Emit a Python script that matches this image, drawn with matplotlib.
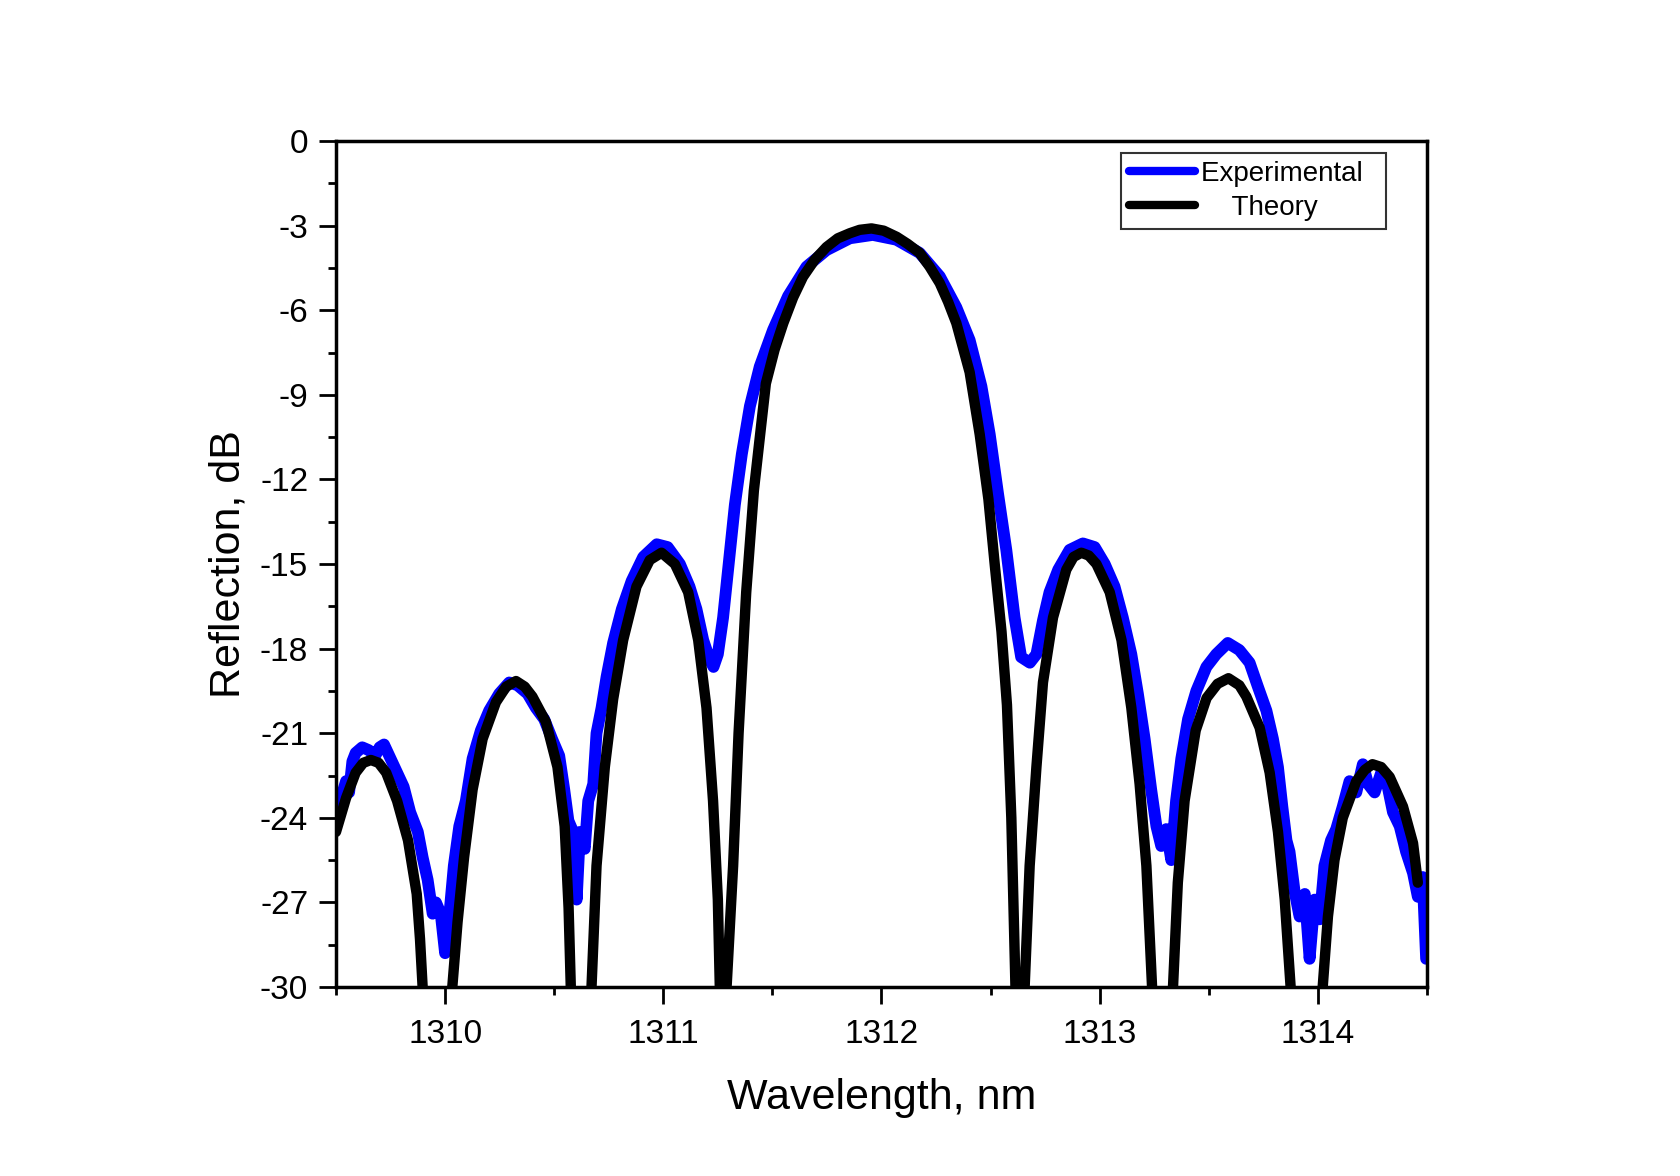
import numpy as np
import matplotlib
matplotlib.use("Agg")
from matplotlib import pyplot as plt
from matplotlib.ticker import MultipleLocator

plt.rcParams['font.family'] = ['Liberation Sans', 'DejaVu Sans']
plt.rcParams['axes.unicode_minus'] = False

nan = np.nan

# theory curve, one list per side lobe (NaN breaks where it drops below -30 dB)
theory_x = [
    1309.500, 1309.546, 1309.590, 1309.625, 1309.660, 1309.695, 1309.730, 1309.780,
    1309.830, 1309.870, 1309.885, 1309.897, nan,
    1310.033, 1310.057, 1310.087, 1310.126, 1310.172, 1310.233, 1310.280, 1310.325,
    1310.365, 1310.400, 1310.462, 1310.515, 1310.548, 1310.566, 1310.576, nan,
    1310.671, 1310.694, 1310.732, 1310.770, 1310.816, 1310.877, 1310.938, 1310.992,
    1311.053, 1311.114, 1311.160, 1311.198, 1311.228, 1311.250, 1311.259, nan,
    1311.290, 1311.320, 1311.345, 1311.380, 1311.415, 1311.470, 1311.510, 1311.550,
    1311.595, 1311.640, 1311.695, 1311.748, 1311.800, 1311.855, 1311.900, 1311.954,
    1312.010, 1312.070, 1312.120, 1312.175, 1312.220, 1312.267, 1312.305, 1312.343,
    1312.404, 1312.450, 1312.490, 1312.520, 1312.550, 1312.575, 1312.595, 1312.614, nan,
    1312.656, 1312.679, 1312.710, 1312.740, 1312.786, 1312.847, 1312.880, 1312.916,
    1312.950, 1312.985, 1313.046, 1313.100, 1313.145, 1313.183, 1313.214, 1313.240, nan,
    1313.336, 1313.358, 1313.389, 1313.440, 1313.490, 1313.540, 1313.590, 1313.640,
    1313.672, 1313.733, 1313.779, 1313.817, 1313.848, 1313.875, nan,
    1314.022, 1314.046, 1314.076, 1314.114, 1314.176, 1314.215, 1314.250, 1314.290,
    1314.329, 1314.390, 1314.436, 1314.458,
]
theory_y = [
    -24.5, -23.3, -22.4, -22.05, -21.95, -22.05, -22.4, -23.4,
    -24.8, -26.7, -28.3, -30.0, nan,
    -30.0, -27.7, -25.4, -23.0, -21.2, -19.9, -19.35, -19.15,
    -19.35, -19.7, -20.6, -22.2, -24.3, -27.2, -30.0, nan,
    -30.0, -25.7, -22.2, -19.8, -17.7, -15.8, -14.86, -14.6,
    -15.0, -16.0, -17.7, -20.1, -23.4, -26.9, -30.0, nan,
    -30.0, -25.7, -21.0, -16.0, -12.4, -8.6, -7.4, -6.46,
    -5.55, -4.82, -4.2, -3.76, -3.45, -3.27, -3.15, -3.1,
    -3.18, -3.4, -3.65, -3.97, -4.45, -5.04, -5.7, -6.46,
    -8.2, -10.4, -12.7, -15.1, -17.4, -20.0, -24.0, -30.0, nan,
    -30.0, -25.7, -22.2, -19.2, -16.9, -15.2, -14.75, -14.6,
    -14.7, -15.0, -16.0, -17.7, -20.1, -22.8, -25.7, -30.0, nan,
    -30.0, -26.3, -23.4, -20.9, -19.75, -19.25, -19.05, -19.3,
    -19.7, -20.8, -22.4, -24.5, -26.9, -30.0, nan,
    -30.0, -27.5, -25.5, -24.0, -22.7, -22.3, -22.1, -22.2,
    -22.55, -23.6, -24.9, -26.3,
]

# measured spectrum
exp_x = [
    1309.500, 1309.523, 1309.546, 1309.560, 1309.575, 1309.590, 1309.620, 1309.650,
    1309.680, 1309.700, 1309.720, 1309.750, 1309.780, 1309.810, 1309.840, 1309.875,
    1309.897, 1309.920, 1309.943, 1309.958, 1309.980, 1310.000, 1310.020, 1310.040,
    1310.065, 1310.095, 1310.126, 1310.164, 1310.202, 1310.248, 1310.294, 1310.332,
    1310.378, 1310.416, 1310.454, 1310.490, 1310.523, 1310.546, 1310.565, 1310.587,
    1310.603, 1310.618, 1310.640, 1310.656, 1310.679, 1310.694, 1310.717, 1310.740,
    1310.770, 1310.810, 1310.855, 1310.908, 1310.970, 1311.020, 1311.076, 1311.120,
    1311.152, 1311.183, 1311.213, 1311.230, 1311.250, 1311.274, 1311.297, 1311.328,
    1311.360, 1311.397, 1311.442, 1311.503, 1311.572, 1311.656, 1311.748, 1311.855,
    1311.960, 1312.068, 1312.175, 1312.267, 1312.343, 1312.404, 1312.458, 1312.496,
    1312.534, 1312.572, 1312.610, 1312.640, 1312.680, 1312.710, 1312.740, 1312.770,
    1312.810, 1312.862, 1312.923, 1312.977, 1313.023, 1313.068, 1313.106, 1313.145,
    1313.175, 1313.206, 1313.236, 1313.260, 1313.282, 1313.305, 1313.328, 1313.350,
    1313.374, 1313.405, 1313.443, 1313.489, 1313.534, 1313.587, 1313.640, 1313.687,
    1313.725, 1313.764, 1313.794, 1313.817, 1313.837, 1313.856, 1313.870, 1313.893,
    1313.916, 1313.940, 1313.962, 1313.985, 1314.008, 1314.030, 1314.060, 1314.084,
    1314.114, 1314.145, 1314.176, 1314.206, 1314.230, 1314.260, 1314.290, 1314.320,
    1314.344, 1314.375, 1314.404, 1314.436, 1314.458, 1314.480, 1314.496,
]
exp_y = [
    -24.1, -23.3, -22.7, -23.1, -22.0, -21.7, -21.5, -21.6,
    -21.8, -21.5, -21.4, -21.9, -22.4, -22.9, -23.8, -24.5,
    -25.4, -26.2, -27.4, -27.0, -27.4, -28.8, -27.4, -25.7,
    -24.3, -23.4, -21.9, -20.9, -20.2, -19.6, -19.2, -19.3,
    -19.6, -20.1, -20.5, -21.2, -21.8, -23.0, -24.1, -24.5,
    -26.9, -24.5, -25.1, -23.4, -22.8, -21.0, -20.1, -19.0,
    -17.8, -16.6, -15.6, -14.75, -14.3, -14.4, -15.0, -15.8,
    -16.6, -17.7, -18.4, -18.65, -18.2, -16.9, -15.2, -12.9,
    -11.1, -9.4, -8.0, -6.7, -5.5, -4.46, -3.87, -3.45,
    -3.33, -3.5, -3.97, -4.8, -5.9, -7.06, -8.7, -10.4,
    -12.5, -14.5, -16.9, -18.3, -18.5, -18.2, -17.0, -16.0,
    -15.2, -14.5, -14.27, -14.4, -15.0, -15.8, -16.9, -18.2,
    -19.6, -21.2, -23.0, -24.3, -25.0, -24.4, -25.5, -23.4,
    -21.9, -20.5, -19.5, -18.65, -18.2, -17.8, -18.05, -18.5,
    -19.35, -20.2, -21.2, -22.2, -23.6, -24.8, -25.2, -26.6,
    -27.5, -26.7, -29.0, -26.9, -27.6, -25.7, -24.8, -24.4,
    -23.6, -22.7, -23.1, -22.1, -22.8, -23.1, -22.4, -22.9,
    -23.8, -24.3, -25.2, -25.96, -26.8, -26.1, -29.0,
]

fig = plt.figure(figsize=(16.8, 11.76), dpi=100)
ax = fig.add_axes([0.2, 0.1607, 0.6494, 0.7194])

ax.plot(exp_x, exp_y, color='#0000ff', lw=8.5, solid_capstyle='round',
        solid_joinstyle='round', label='Experimental', zorder=2)
ax.plot(theory_x, theory_y, color='black', lw=7.5, solid_capstyle='round',
        solid_joinstyle='round', label='    Theory', zorder=3)

ax.set_xlim(1309.5, 1314.5)
ax.set_ylim(-30, 0)
ax.xaxis.set_major_locator(MultipleLocator(1))
ax.xaxis.set_minor_locator(MultipleLocator(0.5))
ax.yaxis.set_major_locator(MultipleLocator(3))
ax.yaxis.set_minor_locator(MultipleLocator(1.5))
ax.tick_params(which='both', direction='out', top=False, right=False, width=2)
ax.tick_params(which='major', length=12, labelsize=24)
ax.tick_params(axis='x', which='major', pad=11)
ax.tick_params(axis='y', which='major', pad=8)
ax.tick_params(which='minor', length=5.5)
for s in ax.spines.values():
    s.set_linewidth(2.5)

ax.set_xlabel('Wavelength, nm', fontsize=31, labelpad=20)
ax.set_ylabel('Reflection, dB', fontsize=31, labelpad=8)

leg = ax.legend(loc='upper left', bbox_to_anchor=(0.7195, 0.9858), fontsize=20,
                frameon=True, fancybox=False, handlelength=2.4, handletextpad=0.2,
                borderpad=0.28, labelspacing=0.3, borderaxespad=0)
leg.get_texts()[0].set_text('Experimental  ')
leg.get_frame().set_edgecolor('black')
leg.get_frame().set_linewidth(1.5)
for h in leg.get_lines():
    h.set_linewidth(6)

fig.savefig('out.png', dpi=100)
